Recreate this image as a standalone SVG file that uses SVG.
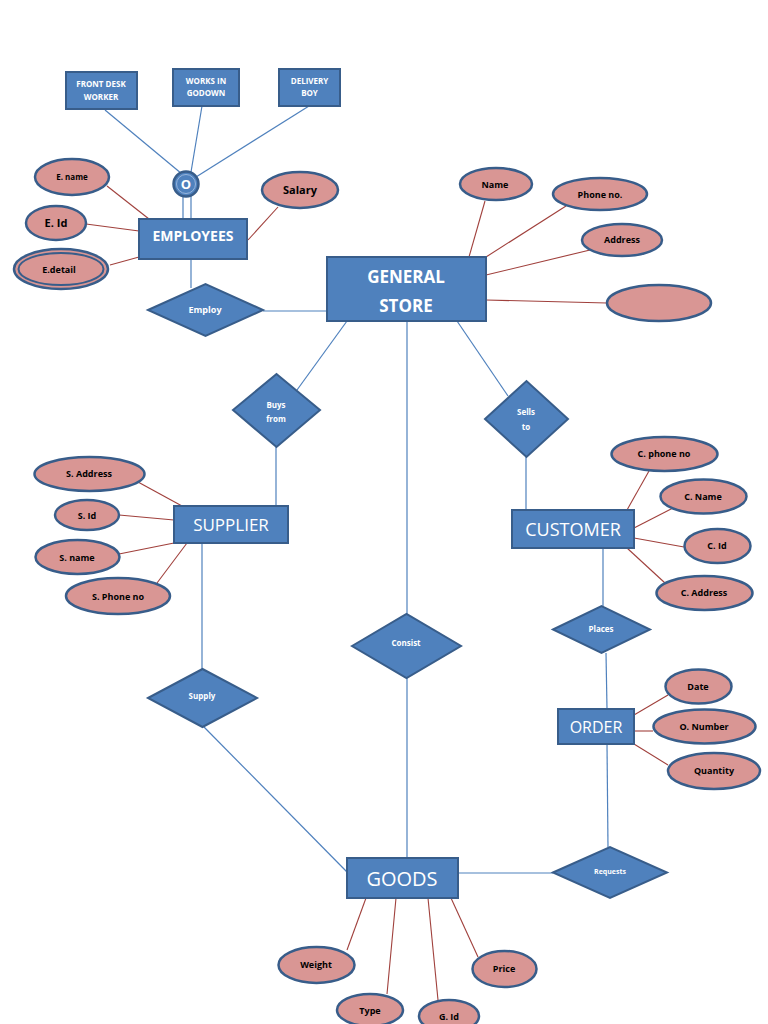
<svg xmlns="http://www.w3.org/2000/svg" width="768" height="1024" viewBox="0 0 768 1024">
<style>
.ent{fill:#4F81BD;stroke:#385D8A;stroke-width:2}
.rel{fill:#4F81BD;stroke:#385D8A;stroke-width:2}
.att{fill:#D99694;stroke:#385D8A;stroke-width:2.5}
.bl{stroke:#4F81BD;stroke-width:1.2;fill:none}
.rd{stroke:#A0403C;stroke-width:1.1;fill:none}
text{font-family:"Open Sans","Liberation Sans",sans-serif;text-anchor:middle}
.w{fill:#FFFFFF}
.k{fill:#000000;font-weight:bold}
</style>
<rect width="768" height="1024" fill="#FFFFFF"/>
<g id="connectors">
<line class="bl" x1="105" y1="110" x2="182" y2="174"/>
<line class="bl" x1="202" y1="106" x2="191" y2="172"/>
<line class="bl" x1="309" y1="106" x2="196" y2="177"/>
<line class="bl" x1="183" y1="196" x2="183" y2="219"/>
<line class="bl" x1="191" y1="196" x2="191" y2="219"/>
<line class="bl" x1="191" y1="259" x2="191" y2="288"/>
<line class="bl" x1="263" y1="311" x2="327" y2="311"/>
<line class="rd" x1="107" y1="186" x2="149" y2="219"/>
<line class="rd" x1="86" y1="224" x2="139" y2="231"/>
<line class="rd" x1="110" y1="265" x2="139" y2="257"/>
<line class="rd" x1="278" y1="207" x2="248" y2="240"/>
<line class="rd" x1="485" y1="201" x2="469" y2="257"/>
<line class="rd" x1="566" y1="206" x2="486" y2="257"/>
<line class="rd" x1="590" y1="250" x2="486" y2="275"/>
<line class="rd" x1="486" y1="300" x2="607" y2="303"/>
<line class="bl" x1="347" y1="321" x2="297" y2="390"/>
<line class="bl" x1="276" y1="447" x2="276" y2="506"/>
<line class="bl" x1="457" y1="321" x2="508" y2="396"/>
<line class="bl" x1="526" y1="457" x2="526" y2="510"/>
<line class="bl" x1="407" y1="321" x2="407" y2="614"/>
<line class="bl" x1="407" y1="678" x2="407" y2="858"/>
<line class="rd" x1="138" y1="482" x2="182" y2="506"/>
<line class="rd" x1="119" y1="515" x2="174" y2="520"/>
<line class="rd" x1="119" y1="554" x2="174" y2="543"/>
<line class="rd" x1="157" y1="583" x2="187" y2="543"/>
<line class="bl" x1="202" y1="543" x2="202" y2="669"/>
<line class="bl" x1="204" y1="727" x2="347" y2="872"/>
<line class="rd" x1="649" y1="471" x2="627" y2="510"/>
<line class="rd" x1="673" y1="508" x2="634" y2="528"/>
<line class="rd" x1="684" y1="547" x2="634" y2="538"/>
<line class="rd" x1="665" y1="583" x2="627" y2="548"/>
<line class="bl" x1="603" y1="548" x2="603" y2="606"/>
<line class="bl" x1="606" y1="653" x2="607" y2="709"/>
<line class="rd" x1="668" y1="695" x2="634" y2="715"/>
<line class="rd" x1="653" y1="731" x2="634" y2="731"/>
<line class="rd" x1="668" y1="765" x2="634" y2="744"/>
<line class="bl" x1="607" y1="744" x2="608" y2="847"/>
<line class="bl" x1="458" y1="873" x2="553" y2="873"/>
<line class="rd" x1="347" y1="950" x2="366" y2="898"/>
<line class="rd" x1="387" y1="994" x2="396" y2="898"/>
<line class="rd" x1="438" y1="1000" x2="428" y2="898"/>
<line class="rd" x1="478" y1="957" x2="451" y2="898"/>
</g>
<g id="front-desk"><rect class="ent" x="66" y="72" width="71" height="37"/><text class="w" x="101" y="87" font-size="8" font-weight="bold">FRONT DESK</text><text class="w" x="101" y="100" font-size="8" font-weight="bold">WORKER</text></g>
<g id="works-godown"><rect class="ent" x="173" y="69" width="66" height="37"/><text class="w" x="206" y="84" font-size="8" font-weight="bold">WORKS IN</text><text class="w" x="206" y="96" font-size="8" font-weight="bold">GODOWN</text></g>
<g id="delivery-boy"><rect class="ent" x="279" y="69" width="61" height="37"/><text class="w" x="309.5" y="84" font-size="8" font-weight="bold">DELIVERY</text><text class="w" x="309.5" y="96" font-size="8" font-weight="bold">BOY</text></g>
<g id="overlap"><circle cx="186" cy="184" r="12.5" fill="#4F81BD" stroke="#385D8A" stroke-width="2.5"/><circle cx="186" cy="184" r="9.5" fill="none" stroke="#A9C3E3" stroke-width="0.8"/><text class="w" x="186" y="189" font-size="13" font-weight="bold">O</text></g>
<g id="employees"><rect class="ent" x="139" y="219" width="108" height="40"/><text class="w" x="193" y="241" font-size="14" font-weight="bold">EMPLOYEES</text></g>
<g id="ename"><ellipse class="att" cx="72" cy="177" rx="37" ry="18"/><text class="k" x="72" y="180" font-size="8">E. name</text></g>
<g id="eid"><ellipse class="att" cx="56" cy="223" rx="30" ry="17"/><text class="k" x="56" y="227" font-size="11">E. Id</text></g>
<g id="edetail"><ellipse class="att" cx="61" cy="269" rx="47" ry="20"/><ellipse cx="61" cy="269" rx="42.5" ry="16" fill="none" stroke="#385D8A" stroke-width="2"/><text class="k" x="59" y="273" font-size="9">E.detail</text></g>
<g id="salary"><ellipse class="att" cx="300" cy="190" rx="38" ry="18"/><text class="k" x="300" y="194" font-size="11">Salary</text></g>
<g id="employ"><polygon class="rel" points="148,310 205.5,284 263,310 205.5,336"/><text class="w" x="205" y="313" font-size="9" font-weight="bold">Employ</text></g>
<g id="general-store"><rect class="ent" x="327" y="257" width="159" height="64"/><text class="w" x="406" y="283" font-size="17" font-weight="bold">GENERAL</text><text class="w" x="406" y="312" font-size="17" font-weight="bold">STORE</text></g>
<g id="name"><ellipse class="att" cx="496" cy="184" rx="36" ry="16"/><text class="k" x="495" y="188" font-size="9">Name</text></g>
<g id="phone"><ellipse class="att" cx="600" cy="194" rx="47" ry="16"/><text class="k" x="600" y="198" font-size="9">Phone no.</text></g>
<g id="address"><ellipse class="att" cx="622" cy="240" rx="40" ry="16"/><text class="k" x="622" y="243" font-size="9">Address</text></g>
<g id="blank"><ellipse class="att" cx="659" cy="303" rx="52" ry="18"/></g>
<g id="buys-from"><polygon class="rel" points="233,410 276.5,374 320,410 276.5,447"/><text class="w" x="276" y="408" font-size="8" font-weight="bold">Buys</text><text class="w" x="276" y="422" font-size="8" font-weight="bold">from</text></g>
<g id="sells-to"><polygon class="rel" points="485,419 526.5,381 568,419 526.5,457"/><text class="w" x="526" y="415" font-size="8" font-weight="bold">Sells</text><text class="w" x="526" y="430" font-size="8" font-weight="bold">to</text></g>
<g id="supplier"><rect class="ent" x="174" y="506" width="114" height="37"/><text class="w" x="231" y="531" font-size="17">SUPPLIER</text></g>
<g id="saddress"><ellipse class="att" cx="89.5" cy="474" rx="55" ry="17"/><text class="k" x="89" y="477" font-size="9">S. Address</text></g>
<g id="sid"><ellipse class="att" cx="87" cy="515" rx="32" ry="15"/><text class="k" x="87" y="519" font-size="9">S. Id</text></g>
<g id="sname"><ellipse class="att" cx="77.5" cy="557" rx="42" ry="17"/><text class="k" x="77" y="561" font-size="9">S. name</text></g>
<g id="sphone"><ellipse class="att" cx="118" cy="596" rx="52" ry="18"/><text class="k" x="118" y="600" font-size="9">S. Phone no</text></g>
<g id="customer"><rect class="ent" x="512" y="510" width="122" height="38"/><text class="w" x="573" y="536" font-size="18">CUSTOMER</text></g>
<g id="cphone"><ellipse class="att" cx="664.5" cy="454" rx="53" ry="17"/><text class="k" x="664" y="457" font-size="9">C. phone no</text></g>
<g id="cname"><ellipse class="att" cx="703.5" cy="496.5" rx="43" ry="17"/><text class="k" x="703" y="500" font-size="9">C. Name</text></g>
<g id="cid"><ellipse class="att" cx="717.5" cy="546" rx="33" ry="17"/><text class="k" x="717" y="549" font-size="9">C. Id</text></g>
<g id="caddress"><ellipse class="att" cx="704.5" cy="593" rx="48" ry="17"/><text class="k" x="704" y="596" font-size="9">C. Address</text></g>
<g id="consist"><polygon class="rel" points="352,646 406.5,614 461,646 406.5,678"/><text class="w" x="406" y="646" font-size="8" font-weight="bold">Consist</text></g>
<g id="supply"><polygon class="rel" points="148,698 202.5,669 257,698 202.5,727"/><text class="w" x="202" y="699" font-size="8" font-weight="bold">Supply</text></g>
<g id="places"><polygon class="rel" points="553,629.5 601.5,606 650,629.5 601.5,653"/><text class="w" x="601" y="632" font-size="8" font-weight="bold">Places</text></g>
<g id="order"><rect class="ent" x="558" y="709" width="76" height="35"/><text class="w" x="596" y="733" font-size="16">ORDER</text></g>
<g id="date"><ellipse class="att" cx="698.5" cy="686.5" rx="33" ry="17"/><text class="k" x="698" y="690" font-size="9">Date</text></g>
<g id="onumber"><ellipse class="att" cx="704.5" cy="726.5" rx="51" ry="17"/><text class="k" x="704" y="730" font-size="9">O. Number</text></g>
<g id="quantity"><ellipse class="att" cx="714" cy="771" rx="46" ry="18"/><text class="k" x="714" y="774" font-size="9">Quantity</text></g>
<g id="requests"><polygon class="rel" points="553,872.5 610,847 667,872.5 610,898"/><text class="w" x="610" y="874" font-size="7" font-weight="bold">Requests</text></g>
<g id="goods"><rect class="ent" x="347" y="858" width="111" height="40"/><text class="w" x="402" y="886" font-size="20">GOODS</text></g>
<g id="weight"><ellipse class="att" cx="316.5" cy="965" rx="38" ry="18"/><text class="k" x="316" y="968" font-size="9">Weight</text></g>
<g id="type"><ellipse class="att" cx="370" cy="1010" rx="33" ry="16"/><text class="k" x="370" y="1014" font-size="9">Type</text></g>
<g id="gid"><ellipse class="att" cx="449" cy="1016" rx="30" ry="16"/><text class="k" x="449" y="1020" font-size="9">G. Id</text></g>
<g id="price"><ellipse class="att" cx="504.5" cy="969" rx="32" ry="18"/><text class="k" x="504" y="972" font-size="9">Price</text></g>
</svg>
